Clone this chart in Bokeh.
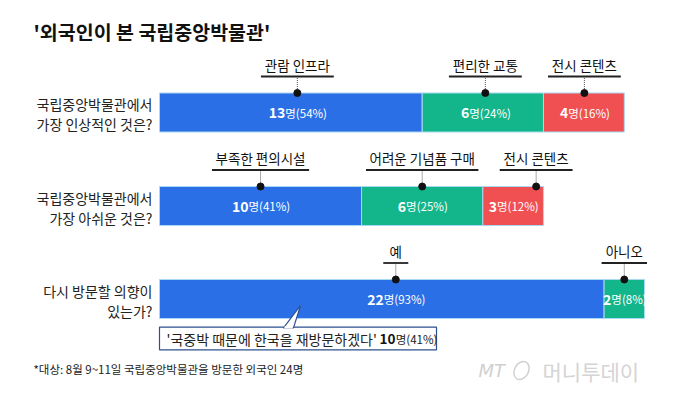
from bokeh.plotting import figure
from bokeh.models import Range1d, ColumnDataSource
from bokeh.core.properties import value
from bokeh.embed import file_html
from bokeh.resources import INLINE

# ---------------- data ----------------
title = "'외국인이 본 국립중앙박물관'"
questions = ["국립중앙박물관에서\n가장 인상적인 것은?",
             "국립중앙박물관에서\n가장 아쉬운 것은?",
             "다시 방문할 의향이\n있는가?"]
answers = [["관람 인프라", "편리한 교통", "전시 콘텐츠"],
           ["부족한 편의시설", "어려운 기념품 구매", "전시 콘텐츠"],
           ["예", "아니오"]]
counts = [[13, 6, 4], [10, 6, 3], [22, 2]]
percents = [[54, 24, 16], [41, 25, 12], [93, 8]]
callout_quote = "'국중박 때문에 한국을 재방문하겠다'"
callout_count = 10
callout_percent = 41
footnote = "*대상: 8월 9~11일 국립중앙박물관을 방문한 외국인 24명"
total_people = 24

# ---------------- layout / style ----------------
KR = "Noto Sans CJK KR"
colors = ["#2a6fe6", "#12b68a", "#f05052"]
W, H = 664, 387
PX0, PX1 = 159, 644                      # picture x of 0 and of total_people
SCALE = (PX1 - PX0) / total_people
row_cy = [112, 205.5, 298.5]
BAR_H = 39
text_off = [[6.5, 2.5, 0.5], [0, 0, 0], [14, 0]]
anchor_off = [[6.5, 2.5, 0.5], [0, 0, 23], [14, 0]]


def X(px):
    return (px - PX0) / SCALE


def est_w(s, fs, bold=False):
    w = 0.0
    for c in s:
        if '\uac00' <= c <= '\ud7a3':
            w += fs * 0.9
        elif c == ' ':
            w += fs * 0.23
        elif c.isdigit():
            w += fs * (0.58 if bold else 0.55)
        elif c == '%':
            w += fs * 0.85
        elif c in "()":
            w += fs * 0.33
        elif c == "'":
            w += fs * 0.2
        else:
            w += fs * 0.55
    return w


p = figure(width=W, height=H, x_range=Range1d(X(0), X(W)),
           y_range=Range1d(H, 0), output_backend="svg",
           toolbar_location=None, min_border=0,
           x_axis_type=None, y_axis_type=None)
p.grid.visible = False
p.outline_line_color = None
p.background_fill_color = "white"

# bars
bars = dict(y=[], left=[], right=[], color=[])
num_t = dict(x=[], y=[], t=[], xo=[])
rest_t = dict(x=[], y=[], t=[], xo=[])
ann = dict(x=[], y=[], t=[], x0=[], x1=[], uy=[], dy0=[], dy1=[], top=[])
for r, (cs, ps) in enumerate(zip(counts, percents)):
    cum = 0
    top = row_cy[r] - BAR_H / 2
    for i, (c, pc) in enumerate(zip(cs, ps)):
        left, right = cum, cum + c
        cum = right
        bars["y"].append(row_cy[r]); bars["left"].append(left); bars["right"].append(right)
        bars["color"].append(colors[i])
        center = (left + right) / 2
        ns, rs = str(c), "명(%d%%)" % pc
        wn, wr = est_w(ns, 14, True), est_w(rs, 11.5)
        split = -(wn + wr) / 2 + wn + text_off[r][i]
        num_t["x"].append(center); num_t["y"].append(row_cy[r]); num_t["t"].append(ns); num_t["xo"].append(split)
        rest_t["x"].append(center); rest_t["y"].append(row_cy[r]); rest_t["t"].append(rs); rest_t["xo"].append(split)
        a = center + anchor_off[r][i] / SCALE
        lab = answers[r][i]
        uw = max(est_w(lab, 13.5) + 9, 25)
        ann["x"].append(a); ann["y"].append(top - 28.5); ann["t"].append(lab)
        ann["x0"].append(a - uw / 2 / SCALE); ann["x1"].append(a + uw / 2 / SCALE)
        ann["uy"].append(top - 16.5); ann["dy0"].append(top - 15); ann["dy1"].append(top - 2)
        ann["top"].append(top)

p.hbar(y="y", left="left", right="right", height=BAR_H, fill_color="color",
       line_color="#a9d8f2", line_width=1, source=ColumnDataSource(bars))

p.text(x="x", y="y", text="t", x_offset="xo", source=ColumnDataSource(num_t),
       text_align="right", text_baseline="middle", text_font=value(KR),
       text_font_style="bold", text_font_size="14px", text_color="white")
p.text(x="x", y="y", text="t", x_offset="xo", source=ColumnDataSource(rest_t),
       text_align="left", text_baseline="middle", text_font=value(KR),
       text_font_size="11.5px", text_color="white")

asrc = ColumnDataSource(ann)
p.text(x="x", y="y", text="t", source=asrc, text_align="center",
       text_baseline="middle", text_font=value(KR), text_font_size="13.5px",
       text_color="#111111")
p.segment(x0="x0", x1="x1", y0="uy", y1="uy", source=asrc,
          line_color="#222222", line_width=1.8)
p.segment(x0="x", x1="x", y0="dy0", y1="dy1", source=asrc,
          line_color="#555555", line_width=1, line_dash="1 1")
p.scatter(x="x", y="top", source=asrc, size=7, color="#111111")

# question labels
ql = dict(x=[], y=[], t=[])
for r, q in enumerate(questions):
    lines = q.split("\n")
    n = len(lines)
    for j, ln in enumerate(lines):
        ql["x"].append(X(152)); ql["y"].append(row_cy[r] + 1.5 + (j - (n - 1) / 2) * 20)
        ql["t"].append(ln)
p.text(x="x", y="y", text="t", source=ColumnDataSource(ql), text_align="right",
       text_baseline="middle", text_font=value(KR), text_font_size="14px",
       text_color="#222222")

# title
p.text(x=[X(33)], y=[31], text=[title], text_align="left", text_baseline="middle",
       text_font=value(KR), text_font_style="bold", text_font_size="19.5px",
       text_color="#111111")

# callout
NAVY = "#2c4f8f"
p.quad(left=[X(159)], right=[X(436)], top=[326.7], bottom=[349.3],
       fill_color="white", line_color=NAVY, line_width=1.2)
p.patch(x=[X(283), X(300), X(293)], y=[327.4, 305, 327.4], fill_color="white",
        line_color=NAVY, line_width=1.2)
p.segment(x0=[X(283.9)], x1=[X(292.2)], y0=[326.9], y1=[326.9],
          line_color="white", line_width=2.2)
cy = 338.5
qx = 166
p.text(x=[X(qx)], y=[cy], text=[callout_quote], text_align="left",
       text_baseline="middle", text_font=value(KR), text_font_size="14px",
       text_color="#222222")
nx = 379
p.text(x=[X(nx)], y=[cy], text=[str(callout_count)], text_align="left",
       text_baseline="middle", text_font=value(KR), text_font_style="bold",
       text_font_size="13.5px", text_color="#111111")
rx = nx + est_w(str(callout_count), 13.5, True) + 0.5
p.text(x=[X(rx)], y=[cy], text=["명(%d%%)" % callout_percent], text_align="left",
       text_baseline="middle", text_font=value(KR), text_font_size="11.5px",
       text_color="#222222")

# footnote
p.text(x=[X(33)], y=[368], text=[footnote], text_align="left",
       text_baseline="middle", text_font=value(KR), text_font_size="11.5px",
       text_color="#222222")

# watermark
p.text(x=[X(478)], y=[370], text=["MT"], text_align="left", text_baseline="middle",
       text_font=value("DejaVu Sans"), text_font_style="italic",
       text_font_size="18px", text_color="#d0d0d0")
p.ellipse(x=[X(521)], y=[370], width=[14 / SCALE], height=[19], angle=[-0.5],
          fill_color=None, line_color="#d0d0d0", line_width=1.5)
p.text(x=[X(542)], y=[370], text=["머니투데이"], text_align="left",
       text_baseline="middle", text_font=value(KR), text_font_size="21px",
       text_color="#d4d4d4")

open("out.html", "w").write(file_html(p, INLINE))
